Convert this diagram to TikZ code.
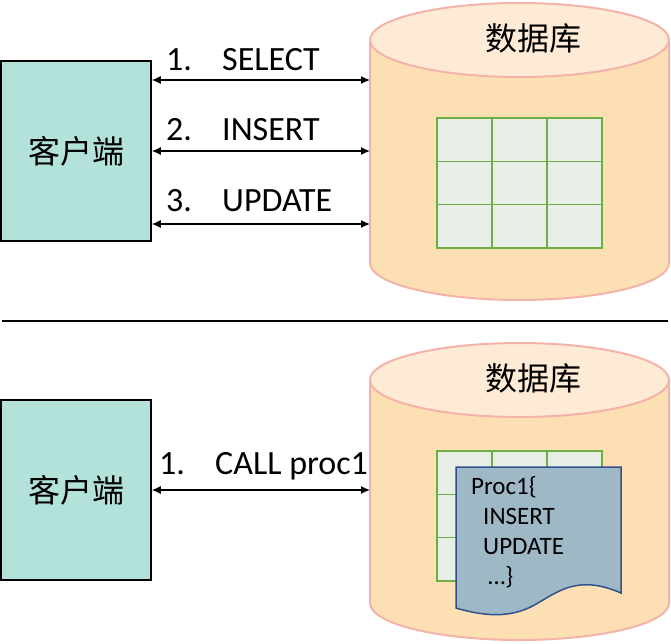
\documentclass[tikz,border=0pt]{standalone}
\usepackage{fontspec}
\setmainfont{Carlito}
\newfontfamily\cjk{Noto Sans CJK SC}
\usetikzlibrary{arrows.meta}
\definecolor{cli}{HTML}{B3E2DB}
\definecolor{cylb}{HTML}{FDDFB4}
\definecolor{cylt}{HTML}{FDEBD6}
\definecolor{cyld}{HTML}{F4B3A8}
\definecolor{grf}{HTML}{E7EEE6}
\definecolor{grd}{HTML}{70AD47}
\definecolor{docf}{HTML}{9FB8C5}
\definecolor{docd}{HTML}{2F528F}
\tikzset{
 client/.style={draw=black,fill=cli,line width=1.5pt,minimum width=150,minimum height=180,inner sep=0,font=\cjk\fontsize{32}{36}\selectfont},
 conn/.style={{Latex[length=9,width=8]}-{Latex[length=9,width=8]},line width=1.3pt},
 lbl/.style={font=\fontsize{34}{38}\selectfont,anchor=base west,inner sep=0},
 cell/.style={draw=grd,fill=grf,line width=1.5pt}
}
\begin{document}
\begin{tikzpicture}[x=1pt,y=-1pt]
\useasboundingbox (0,0) rectangle (671,643);
% top
\node[client] (c1) at (76,151) {客户端};
\draw[cyld,fill=cylb,line width=2pt] (370,40) -- (370,263) arc[start angle=180,end angle=0,x radius=149.5,y radius=37] -- (669,40);
\draw[cyld,fill=cylt,line width=2pt] (519.5,40) ellipse[x radius=149.5,y radius=37];
\node[font=\cjk\fontsize{32}{36}\selectfont] (db1) at (533,38) {数据库};
\foreach \i in {0,1,2}\foreach \j in {0,1,2}
 \draw[cell] (437+55*\i,118+43.3*\j) rectangle ++(55,43.3);
\coordinate (d1a) at (370,80); \coordinate (d1b) at (370,151); \coordinate (d1c) at (370,224);
\draw[conn] (c1.east|-d1a) -- (d1a);
\draw[conn] (c1.east|-d1b) -- (d1b);
\draw[conn] (c1.east|-d1c) -- (d1c);
\node[lbl] (n1) at (166,70) {1.}; \node[lbl] (l1) at (222,70) {SELECT};
\node[lbl] (n2) at (166,140) {2.}; \node[lbl] (l2) at (222,140) {INSERT};
\node[lbl] (n3) at (166,211) {3.}; \node[lbl] (l3) at (222,211) {UPDATE};
\coordinate (s1) at (2,321); \coordinate (s2) at (668,321);
\draw[line width=1.3pt] (s1) -- (s2);
% bottom
\node[client] (c2) at (76,490) {客户端};
\draw[cyld,fill=cylb,line width=2pt] (370,380) -- (370,603) arc[start angle=180,end angle=0,x radius=149.5,y radius=37] -- (669,380);
\draw[cyld,fill=cylt,line width=2pt] (519.5,380) ellipse[x radius=149.5,y radius=37];
\node[font=\cjk\fontsize{32}{36}\selectfont] (db2) at (533,378) {数据库};
\foreach \i in {0,1,2}\foreach \j in {0,1,2}
 \draw[cell] (437+55*\i,451+43.3*\j) rectangle ++(55,43.3);
\draw[docd,fill=docf,line width=1.5pt] (456,467) -- (621,467) -- (621,593)
 .. controls (580,575) and (560,590) .. (538,603)
 .. controls (515,617) and (490,618) .. (456,608) -- cycle;
\node[font=\fontsize{25}{30}\selectfont,align=left,anchor=north west,inner sep=0] (doc) at (471,476)
 {Proc1\{\\\hspace{12pt}INSERT\\\hspace{12pt}UPDATE\\\hspace{17pt}…\}};
\coordinate (d2) at (370,490);
\draw[conn] (c2.east|-d2) -- (d2);
\node[lbl] (n4) at (159,474) {1.}; \node[lbl] (l4) at (215,474) {CALL proc1};
\end{tikzpicture}
\end{document}
